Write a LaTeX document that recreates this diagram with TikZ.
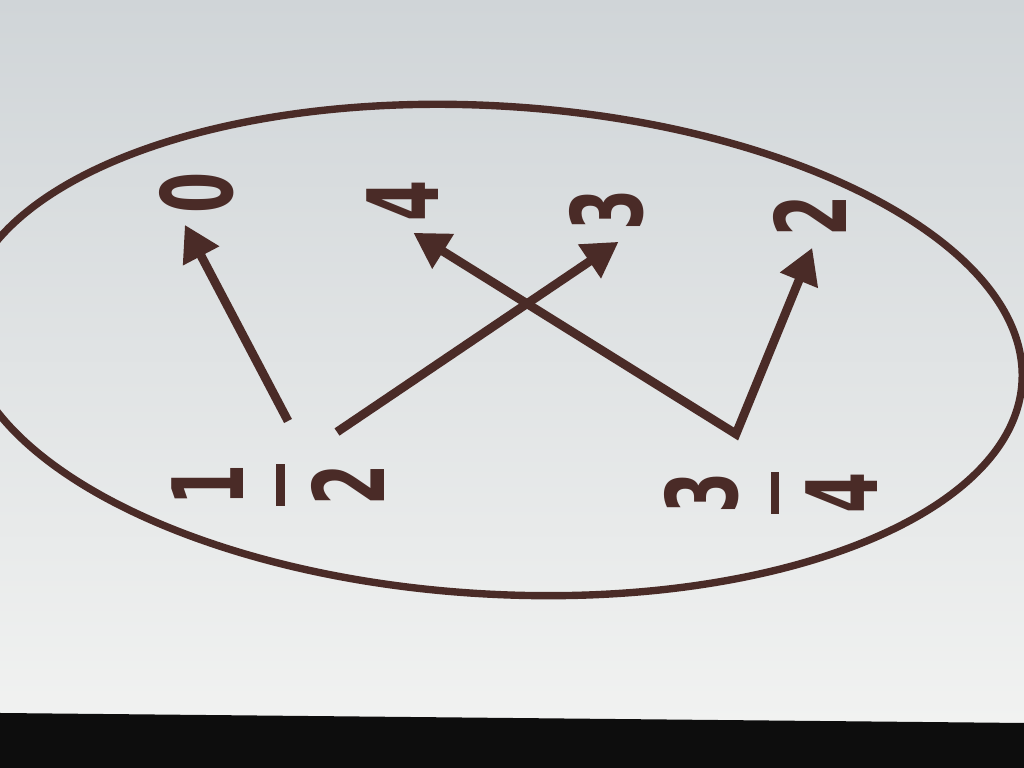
\documentclass[tikz,border=0pt]{standalone}
\usepackage{amsmath}
\usepackage{graphicx}
\usepackage{fontspec}
\setmainfont{DejaVu Sans}
\usepackage{tikz}
\usetikzlibrary{arrows.meta}
\definecolor{ink}{HTML}{4A2B27}
\definecolor{screentop}{HTML}{D0D5D8}
\definecolor{screenbot}{HTML}{F1F2F1}
\newcommand{\squash}[1]{\scalebox{0.6}[1]{#1}}

\begin{document}
\begin{tikzpicture}[x=0.01cm, y=-0.01cm,
  digit/.style={rotate=90, inner sep=3pt, text=ink, font=\fontsize{28}{30}\selectfont\bfseries},
  arr/.style={-{Triangle[length=10pt,width=11pt]}, line width=2.5pt, draw=ink},
  twin/.style={{Triangle[length=10pt,width=11pt]}-{Triangle[length=10pt,width=11pt]}, line width=2.5pt, draw=ink, line join=miter}]
\useasboundingbox (0,0) rectangle (1024,768);
\fill [top color=screentop, bottom color=screenbot] (0,0) rectangle (1024,723);
\fill [black!95] (0,713) -- (1024,723) -- (1024,768) -- (0,768) -- cycle;

\draw [ink, line width=2.1pt, rotate around={-3.5:(493,350)}] (493,350) ellipse [x radius=530, y radius=244];

\node [digit] (d0) at (197,193) {\squash{0}};
\node [digit] (d4) at (403,201) {\squash{4}};
\node [digit] (d3) at (607,210) {\squash{3}};
\node [digit] (d2) at (810,216) {\squash{2}};

\node [digit] (half) at (278,485) {\squash{$\genfrac{}{}{2.5pt}{0}{\text{1}}{\text{2}}$}};
\node [digit] (threeq) at (771,493) {\squash{$\genfrac{}{}{2.5pt}{0}{\text{3}}{\text{4}}$}};

\coordinate (t0) at (288,421); \coordinate (t3) at (337,432); \coordinate (v) at (736,434);

\draw [arr] (t0) -- (d0.159);
\draw [arr] (t3) -- (d3.200);
\draw [twin] (d4.198) -- (v) -- (d2.184);

\end{tikzpicture}
\end{document}
